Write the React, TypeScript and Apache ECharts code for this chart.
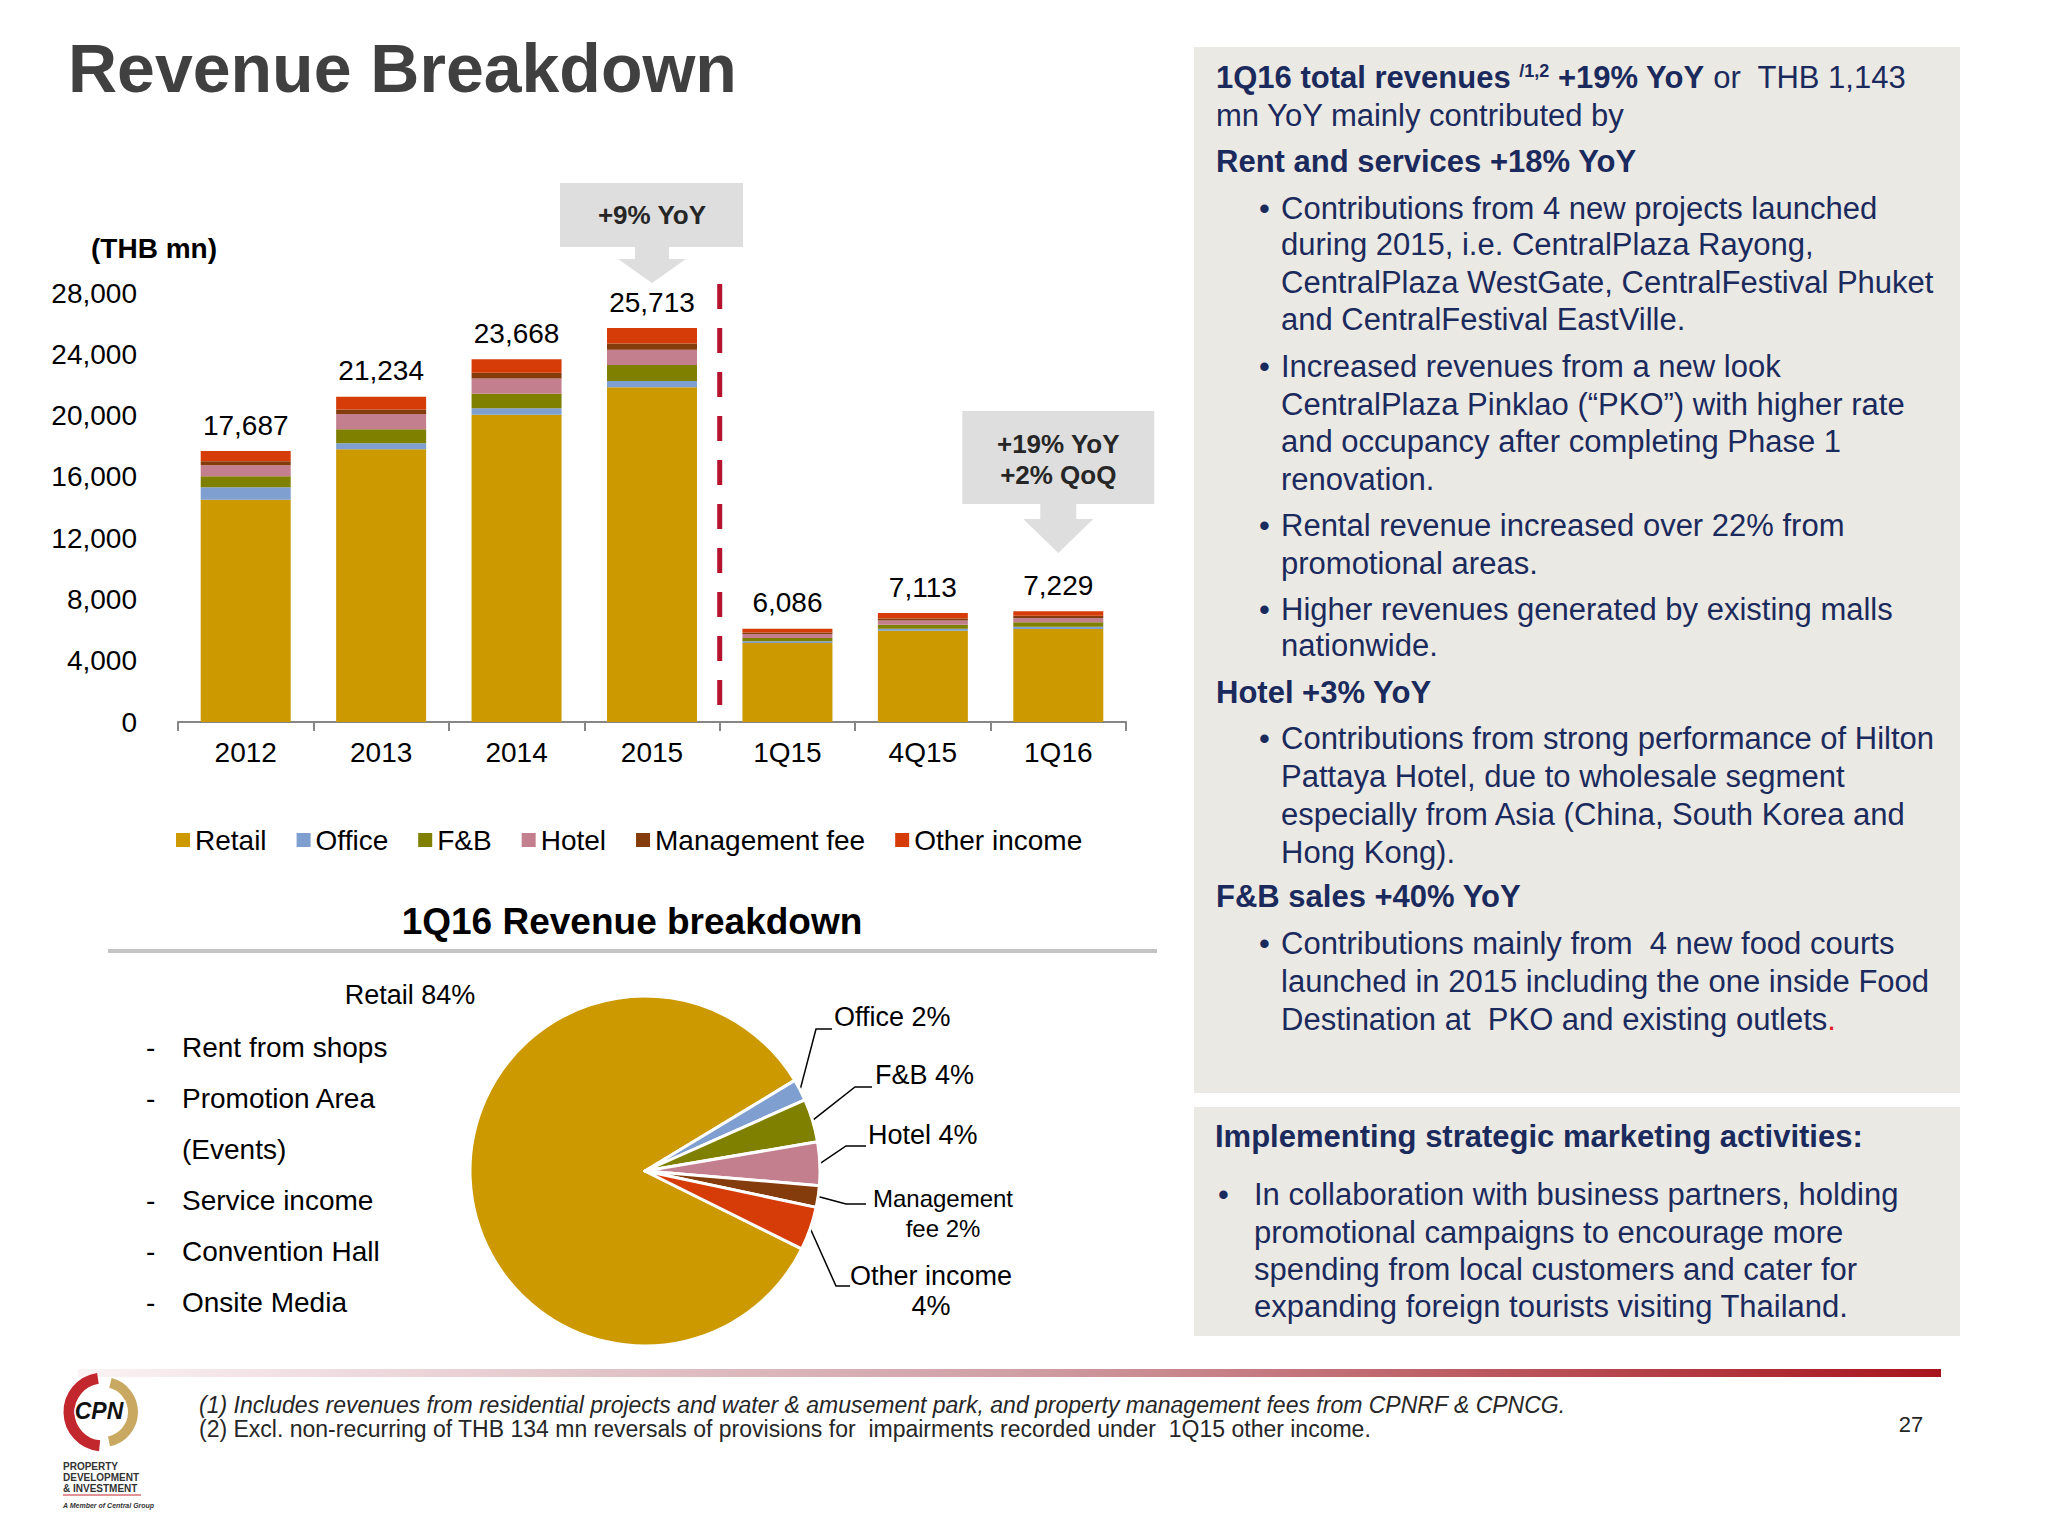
import React, { useEffect, useRef } from 'react';
import * as echarts from 'echarts';

// ---------------- data ----------------
const categories = ['2012', '2013', '2014', '2015', '1Q15', '4Q15', '1Q16'];
const seriesNames = ['Retail', 'Office', 'F&B', 'Hotel', 'Management fee', 'Other income'];
const retail = [14500, 17800, 20050, 21850, 5150, 5950, 6072];
const office = [820, 400, 420, 400, 120, 130, 145];
const fnb = [720, 900, 950, 1050, 220, 260, 289];
const hotel = [720, 1000, 1000, 1000, 250, 280, 289];
const mgmtFee = [260, 300, 380, 400, 100, 130, 145];
const otherIncome = [667, 834, 868, 1013, 246, 363, 289];
const totals = [17687, 21234, 23668, 25713, 6086, 7113, 7229];
const yMin = 0;
const yMax = 28000;
const yInterval = 4000;
const pieShares = [84, 2, 4, 4, 2, 4];
const pieLabelNames = ['Retail', 'Office', 'F&B', 'Hotel', 'Management\nfee', 'Other income\n'];
const retailItems = [
  { dash: true, text: 'Rent from shops' },
  { dash: true, text: 'Promotion Area' },
  { dash: false, text: '(Events)' },
  { dash: true, text: 'Service income' },
  { dash: true, text: 'Convention Hall' },
  { dash: true, text: 'Onsite Media' },
];

// ---------------- styles / layout ----------------
const FONT = '"Liberation Sans", Arial, Helvetica, sans-serif';
const NAVY = '#1b2a5c';
const colors = ['#cc9900', '#7f9fd1', '#808000', '#c47f8e', '#843c0c', '#d63c08'];
const pieLabelPos: any[] = [
  { x: 410, y: 995, align: 'center' },
  { x: 834, y: 1017, align: 'left', line: [[816, 1029], [832, 1029]] },
  { x: 875, y: 1075, align: 'left', line: [[855, 1087], [872, 1087]] },
  { x: 868, y: 1135, align: 'left', line: [[846, 1146], [866, 1146]] },
  { x: 943, y: 1213, align: 'center', line: [[846, 1204], [866, 1204]] },
  { x: 931, y: 1291, align: 'center', line: [[836, 1286], [850, 1286]] },
];

function txt(x: number, y: number, text: string, style: any = {}) {
  return {
    type: 'text',
    x,
    y,
    silent: true,
    style: {
      text,
      fontFamily: FONT,
      fontSize: 31,
      fill: NAVY,
      align: 'left',
      verticalAlign: 'middle',
      ...style,
    },
  };
}

function arrowPoints(cx: number, yTop: number, sw: number, sh: number, hw: number, hh: number) {
  return [
    [cx - sw / 2, yTop],
    [cx + sw / 2, yTop],
    [cx + sw / 2, yTop + sh],
    [cx + hw / 2, yTop + sh],
    [cx, yTop + sh + hh],
    [cx - hw / 2, yTop + sh],
    [cx - sw / 2, yTop + sh],
  ];
}

function buildGraphics(chart: any) {
  const px = (c: string) => chart.convertToPixel({ xAxisIndex: 0 }, c) as number;
  const py = (v: number) => chart.convertToPixel({ yAxisIndex: 0 }, v) as number;
  const g: any[] = [];

  // Title
  g.push(txt(68, 68, 'Revenue Breakdown', { fontSize: 68, fontWeight: 'bold', fill: '#404040' }));
  g.push(txt(91, 248, '(THB mn)', { fontSize: 28, fontWeight: 'bold', fill: '#000' }));

  // separator dashed line
  const sepX = (px('2015') + px('1Q15')) / 2;
  g.push({
    type: 'line',
    silent: true,
    shape: { x1: sepX, y1: py(yMax) - 9, x2: sepX, y2: py(0) - 10 },
    style: { stroke: '#b5122e', lineWidth: 5, lineDash: [25, 19] },
  });

  // callout 1
  const c1 = px('2015');
  g.push({ type: 'rect', silent: true, shape: { x: c1 - 92, y: 183, width: 183, height: 64 }, style: { fill: '#dedede' } });
  g.push({ type: 'polygon', silent: true, shape: { points: arrowPoints(c1, 246, 34, 13, 68, 24) }, style: { fill: '#dedede' } });
  g.push(txt(c1, 215, '+9% YoY', { fontSize: 26, fontWeight: 'bold', fill: '#262626', align: 'center' }));

  // callout 2
  const c2 = px('1Q16');
  g.push({ type: 'rect', silent: true, shape: { x: c2 - 96, y: 411, width: 192, height: 93 }, style: { fill: '#dedede' } });
  g.push({ type: 'polygon', silent: true, shape: { points: arrowPoints(c2, 503, 36, 16, 70, 34) }, style: { fill: '#dedede' } });
  g.push(txt(c2, 444, '+19% YoY', { fontSize: 26, fontWeight: 'bold', fill: '#262626', align: 'center' }));
  g.push(txt(c2, 475, '+2% QoQ', { fontSize: 26, fontWeight: 'bold', fill: '#262626', align: 'center' }));

  // pie section title + rule
  g.push(txt(632, 921, '1Q16 Revenue breakdown', { fontSize: 37, fontWeight: 'bold', fill: '#000', align: 'center' }));
  g.push({ type: 'line', silent: true, shape: { x1: 108, y1: 951, x2: 1157, y2: 951 }, style: { stroke: '#c4c4c4', lineWidth: 4 } });

  // retail list
  retailItems.forEach((it, i) => {
    const y = 1047 + i * 51;
    if (it.dash) g.push(txt(146, y, '-', { fontSize: 28, fill: '#000' }));
    g.push(txt(182, y, it.text, { fontSize: 28, fill: '#000' }));
  });

  // right panel boxes
  g.push({ type: 'rect', silent: true, z: -1, shape: { x: 1194, y: 47, width: 766, height: 1046 }, style: { fill: '#ebe9e4' } });
  g.push({ type: 'rect', silent: true, z: -1, shape: { x: 1194, y: 1107, width: 766, height: 229 }, style: { fill: '#ebe9e4' } });

  const rich = {
    b: { fontWeight: 'bold', fontSize: 31, fill: NAVY, fontFamily: FONT },
    n: { fontWeight: 'normal', fontSize: 31, fill: NAVY, fontFamily: FONT },
    s: { fontWeight: 'bold', fontSize: 18, fill: NAVY, fontFamily: FONT, verticalAlign: 'top' },
    r: { fontWeight: 'normal', fontSize: 31, fill: '#e02020', fontFamily: FONT },
  };
  g.push(txt(1216, 77, '{b|1Q16 total revenues }{s|/1,2}{b| +19% YoY}{n| or  THB 1,143}', { rich }));
  g.push(txt(1216, 115, 'mn YoY mainly contributed by'));
  g.push(txt(1216, 161, 'Rent and services +18% YoY', { fontWeight: 'bold' }));

  const bullet = (lines: string[], ys: number[], bx = 1259, tx = 1281) => {
    g.push(txt(bx, ys[0], '•'));
    lines.forEach((l, i) => {
      if (l.startsWith('{')) g.push(txt(tx, ys[i], l, { rich }));
      else g.push(txt(tx, ys[i], l));
    });
  };
  bullet(
    ['Contributions from 4 new projects launched', 'during 2015, i.e. CentralPlaza Rayong,', 'CentralPlaza WestGate, CentralFestival Phuket', 'and CentralFestival EastVille.'],
    [208, 244, 282, 319]
  );
  bullet(
    ['Increased revenues from a new look', 'CentralPlaza Pinklao (“PKO”) with higher rate', 'and occupancy after completing Phase 1', 'renovation.'],
    [366, 404, 441, 479]
  );
  bullet(['Rental revenue increased over 22% from', 'promotional areas.'], [525, 563]);
  bullet(['Higher revenues generated by existing malls', 'nationwide.'], [609, 645]);
  g.push(txt(1216, 692, 'Hotel +3% YoY', { fontWeight: 'bold' }));
  bullet(
    ['Contributions from strong performance of Hilton', 'Pattaya Hotel, due to wholesale segment', 'especially from Asia (China, South Korea and', 'Hong Kong).'],
    [738, 776, 814, 852]
  );
  g.push(txt(1216, 896, 'F&B sales +40% YoY', { fontWeight: 'bold' }));
  bullet(
    ['Contributions mainly from  4 new food courts', 'launched in 2015 including the one inside Food', '{n|Destination at  PKO and existing outlets}{r|.}'],
    [943, 981, 1019]
  );
  g.push(txt(1215, 1136, 'Implementing strategic marketing activities:', { fontWeight: 'bold' }));
  bullet(
    ['In collaboration with business partners, holding', 'promotional campaigns to encourage more', 'spending from local customers and cater for', 'expanding foreign tourists visiting Thailand.'],
    [1194, 1232, 1269, 1306],
    1218,
    1254
  );

  // footer
  g.push({
    type: 'rect',
    silent: true,
    shape: { x: 78, y: 1369, width: 1863, height: 8 },
    style: {
      fill: new echarts.graphic.LinearGradient(0, 0, 1, 0, [
        { offset: 0, color: '#fbf3f4' },
        { offset: 0.5, color: '#cfa0a6' },
        { offset: 1, color: '#a8141c' },
      ]),
    },
  });
  g.push(txt(199, 1405, '(1) Includes revenues from residential projects and water & amusement park, and property management fees from CPNRF & CPNCG.', { fontSize: 23, fill: '#262626', fontStyle: 'italic' }));
  g.push(txt(199, 1429, '(2) Excl. non-recurring of THB 134 mn reversals of provisions for  impairments recorded under  1Q15 other income.', { fontSize: 23, fill: '#262626' }));
  g.push(txt(1911, 1424, '27', { fontSize: 22, fill: '#262626', align: 'center' }));

  // logo
  g.push({ type: 'arc', silent: true, shape: { cx: 103, cy: 1412, r: 30, startAngle: -Math.PI / 2 + 0.25, endAngle: Math.PI / 2 - 0.2, clockwise: true }, style: { stroke: '#c9a961', lineWidth: 10, fill: 'none' } });
  g.push({ type: 'arc', silent: true, shape: { cx: 103, cy: 1412, r: 34, startAngle: Math.PI / 2 + 0.1, endAngle: (3 * Math.PI) / 2 - 0.15, clockwise: true }, style: { stroke: '#c1272d', lineWidth: 11, fill: 'none' } });
  g.push(txt(99, 1411, 'CPN', { fontSize: 23, fontWeight: 'bold', fontStyle: 'italic', fill: '#111', stroke: '#fff', lineWidth: 3, align: 'center' }));
  g.push(txt(63, 1466, 'PROPERTY', { fontSize: 10, fontWeight: 'bold', fill: '#333' }));
  g.push(txt(63, 1477, 'DEVELOPMENT', { fontSize: 10, fontWeight: 'bold', fill: '#333' }));
  g.push(txt(63, 1488, '& INVESTMENT', { fontSize: 10, fontWeight: 'bold', fill: '#333' }));
  g.push({ type: 'line', silent: true, shape: { x1: 63, y1: 1495, x2: 141, y2: 1495 }, style: { stroke: '#c1272d', lineWidth: 1 } });
  g.push(txt(63, 1505, 'A Member of Central Group', { fontSize: 7, fontWeight: 'bold', fontStyle: 'italic', fill: '#333' }));

  return g;
}

export default function App() {
  const ref = useRef<HTMLDivElement>(null);

  useEffect(() => {
    if (!ref.current) return;
    const chart = echarts.init(ref.current, null, { renderer: 'svg' });
    const seriesData = [retail, office, fnb, hotel, mgmtFee, otherIncome];
    const barSeries = seriesNames.map((name, i) => ({
      name,
      type: 'bar',
      stack: 'rev',
      barWidth: 90,
      data: seriesData[i],
      itemStyle: { color: colors[i] },
      emphasis: { disabled: true },
      label:
        i === seriesNames.length - 1
          ? {
              show: true,
              position: 'top',
              distance: 12,
              fontSize: 28,
              color: '#000',
              fontFamily: FONT,
              formatter: (p: any) => totals[p.dataIndex].toLocaleString('en-US'),
            }
          : { show: false },
    }));

    const pieSeries = {
      type: 'pie',
      center: [645, 1171],
      radius: 175,
      startAngle: 333.6,
      clockwise: true,
      avoidLabelOverlap: false,
      silent: true,
      emphasis: { disabled: true },
      itemStyle: { borderColor: '#fff', borderWidth: 3 },
      data: seriesNames.map((name, i) => ({
        name,
        value: pieShares[i],
        itemStyle: { color: colors[i] },
        labelLine: { show: i !== 0 },
        label: i === 4 ? { fontSize: 24, lineHeight: 30 } : undefined,
      })),
      label: {
        show: true,
        position: 'outside',
        fontSize: 27,
        lineHeight: 30,
        color: '#000',
        fontFamily: FONT,
        formatter: (p: any) => {
          const n = pieLabelNames[p.dataIndex];
          return n.endsWith('\n') ? `${n}${pieShares[p.dataIndex]}%` : `${n} ${pieShares[p.dataIndex]}%`;
        },
      },
      labelLine: { show: true, length: 10, length2: 10, lineStyle: { color: '#000', width: 1.5 } },
      labelLayout: (params: any) => {
        const L = pieLabelPos[params.dataIndex];
        const r: any = { x: L.x, y: L.y, align: L.align, verticalAlign: 'middle' };
        if (L.line && params.labelLinePoints) {
          r.labelLinePoints = [params.labelLinePoints[0], L.line[0], L.line[1]];
        }
        return r;
      },
    };

    chart.setOption({
      animation: false,
      backgroundColor: '#ffffff',
      textStyle: { fontFamily: FONT },
      legend: {
        left: 171,
        top: 821,
        itemWidth: 14,
        itemHeight: 14,
        itemGap: 30,
        icon: 'rect',
        selectedMode: false,
        data: seriesNames,
        textStyle: { fontSize: 28, color: '#000', fontFamily: FONT },
      },
      grid: { left: 178, top: 293, width: 948, height: 429 },
      xAxis: {
        type: 'category',
        data: categories,
        axisLine: { lineStyle: { color: '#868686', width: 2 } },
        axisTick: { show: true, length: 9, lineStyle: { color: '#868686', width: 2 } },
        axisLabel: { fontSize: 28, color: '#000', margin: 16, fontFamily: FONT },
      },
      yAxis: {
        type: 'value',
        min: yMin,
        max: yMax,
        interval: yInterval,
        axisLine: { show: false },
        axisTick: { show: false },
        splitLine: { show: false },
        axisLabel: {
          fontSize: 28,
          color: '#000',
          margin: 41,
          fontFamily: FONT,
          formatter: (v: number) => v.toLocaleString('en-US'),
        },
      },
      series: [...barSeries, pieSeries],
    });

    chart.setOption({ graphic: buildGraphics(chart) });

    return () => {
      chart.dispose();
    };
  }, []);

  return (
    <div
      ref={ref}
      style={{ position: 'absolute', left: 0, top: 0, width: 2048, height: 1536, background: '#fff' }}
    />
  );
}
